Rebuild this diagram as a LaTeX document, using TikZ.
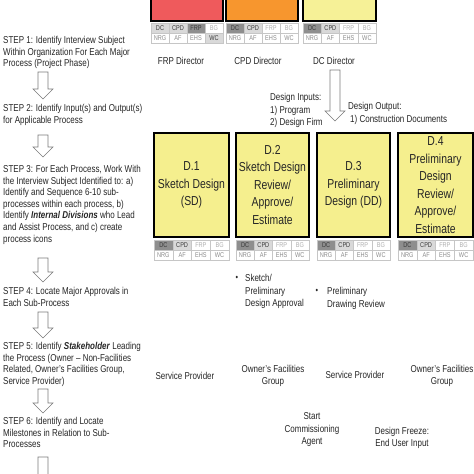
\documentclass[tikz,border=0pt]{standalone}
\usepackage{fontspec}
\setmainfont{Liberation Sans}[FakeStretch=0.8]

\definecolor{frpred}{HTML}{EF5A5C}
\definecolor{cpdorange}{HTML}{F7962E}
\definecolor{dcyellow}{HTML}{F6F197}
\definecolor{boxyellow}{HTML}{F5EF8E}
\definecolor{arrowgray}{HTML}{7A7A7A}
\definecolor{cellline}{HTML}{C6C6C6}
\definecolor{leadgray}{HTML}{8E8E8E}
\definecolor{assistgray}{HTML}{D9D9D9}
\definecolor{darktext}{HTML}{3A3A3A}
\definecolor{dimtext}{HTML}{8C8C8C}
\definecolor{lighttext}{HTML}{B0B0B0}
\definecolor{maintext}{HTML}{262626}

\tikzset{
  steptext/.style={anchor=north west, align=left, inner sep=0pt, text=maintext,
    font=\fontsize{10}{11.6}\selectfont},
  lbl/.style={align=center, inner sep=0pt, text=maintext,
    font=\fontsize{10}{12.5}\selectfont},
  dbox/.style={draw=black, line width=1.4pt, fill=boxyellow, align=center,
    inner sep=0pt, text=maintext, font=\fontsize{13}{17.5}\selectfont},
  topbox/.style={draw=black, line width=1.4pt},
  cell/.style={draw=cellline, line width=0.5pt, minimum height=10pt, inner sep=0pt,
    font=\fontsize{7}{7}\selectfont},
  lead/.style={fill=leadgray, text=darktext},
  assist/.style={fill=assistgray, text=darktext},
  none/.style={fill=white, text=lighttext},
  dim/.style={fill=white, text=dimtext},
  blockline/.style={draw=arrowgray, line width=0.6pt, fill=white}
}

% hollow down arrow: x centre, top, tip
\newcommand{\blockdown}[3]{%
  \draw[blockline] ({#1-5},#2) -- ({#1+5},#2) -- ({#1+5},{#3-10}) -- ({#1+10},{#3-10})
    -- (#1,#3) -- ({#1-10},{#3-10}) -- ({#1-5},{#3-10}) -- cycle;}

% role grid: name, left x, top y, width, cells
\newcommand{\rolegrid}[5]{%
  \foreach \lab/\sty [count=\i from 0] in {#5}{
    \pgfmathtruncatemacro{\col}{mod(\i,4)}
    \pgfmathtruncatemacro{\row}{int(\i/4)}
    \node[cell, \sty, minimum width={#4/4}] (#1-\i) at ({#2+(\col+0.5)*#4/4},{#3+(\row+0.5)*10}) {\lab};
  }}

\begin{document}
\begin{tikzpicture}[x=1pt,y=-1pt]
\clip (0,0) rectangle (474,474);
\fill[white] (0,0) rectangle (474,474);

% steps
\node[steptext] (s1) at (3,36) {STEP 1: Identify Interview Subject\\Within Organization For Each Major\\Process (Project Phase)};
\node[steptext] (s2) at (3,104) {STEP 2: Identify Input(s) and Output(s)\\for Applicable Process};
\node[steptext] (s3) at (3,165) {STEP 3: For Each Process, Work With\\the Interview Subject Identified to: a)\\Identify and Sequence 6-10 sub-\\processes within each process, b)\\Identify \textbf{\textit{Internal Divisions}} who Lead\\and Assist Process, and c) create\\process icons};
\node[steptext] (s4) at (3,287) {STEP 4: Locate Major Approvals in\\Each Sub-Process};
\node[steptext] (s5) at (3,342) {STEP 5: Identify \textbf{\textit{Stakeholder}} Leading\\the Process (Owner – Non-Facilities\\Related, Owner’s Facilities Group,\\Service Provider)};
\node[steptext] (s6) at (3,417) {STEP 6: Identify and Locate\\Milestones in Relation to Sub-\\Processes};

\foreach \a/\b in {72/99, 135/157, 258/282, 312/338, 389/413, 457/490}
  {\blockdown{43}{\a}{\b}}

% directors
\draw[topbox, fill=frpred] (151,-5) rectangle (223,21);
\draw[topbox, fill=cpdorange] (226,-5) rectangle (298,21);
\draw[topbox, fill=dcyellow] (303,-5) rectangle (376,21);

\rolegrid{frp}{151}{23}{72}{DC/assist,CPD/assist,FRP/lead,BG/none,NRG/dim,AF/dim,EHS/dim,WC/assist}
\rolegrid{cpd}{226}{23}{72}{DC/lead,CPD/assist,FRP/none,BG/none,NRG/dim,AF/dim,EHS/dim,WC/dim}
\rolegrid{dc}{303}{23}{73}{DC/lead,CPD/assist,FRP/none,BG/none,NRG/dim,AF/dim,EHS/dim,WC/dim}

\node[lbl] (frpdir) at (181,61) {FRP Director};
\node[lbl] (cpddir) at (258,61) {CPD Director};
\node[lbl] (dcdir) at (334,61) {DC Director};

% inputs / outputs
\blockdown{335}{70}{121}
\node[lbl, anchor=north west, align=left] (din) at (270,93.3) {Design Inputs:\\1) Program\\2) Design Firm};
\node[lbl, anchor=north west, align=left] (dout) at (348,102.3) {Design Output:\\\hspace{2pt}1) Construction Documents};

% sub-processes
\node[dbox, minimum width=75pt, minimum height=104pt] (d1) at (191.5,185) {D.1\\Sketch Design\\(SD)};
\node[dbox, minimum width=73pt, minimum height=104pt] (d2) at (272.5,185) {D.2\\Sketch Design\\Review/\\Approve/\\Estimate};
\node[dbox, minimum width=73pt, minimum height=104pt] (d3) at (353.5,185) {D.3\\Preliminary\\Design (DD)};
\node[dbox, minimum width=75pt, minimum height=104pt] (d4) at (435.5,185) {D.4\\Preliminary\\Design\\Review/\\Approve/\\Estimate};

\foreach \g/\x/\w in {g1/154/75, g2/236/73, g3/317/73, g4/398/75}
  {\rolegrid{\g}{\x}{240}{\w}{DC/lead,CPD/assist,FRP/none,BG/none,NRG/dim,AF/dim,EHS/dim,WC/dim}}

% approvals
\node[lbl, font=\fontsize{9}{9}\selectfont] (b1dot) at (237,278) {•};
\node[lbl, anchor=north west, align=left] (b1) at (245,274.3) {Sketch/\\Preliminary\\Design Approval};
\node[lbl, font=\fontsize{9}{9}\selectfont] (b2dot) at (317,291) {•};
\node[lbl, anchor=north west, align=left] (b2) at (327,287.3) {Preliminary\\Drawing Review};

% stakeholders
\node[lbl] (k1) at (185,376) {Service Provider};
\node[lbl] (k2) at (273,376) {Owner’s Facilities\\Group};
\node[lbl] (k3) at (355,375) {Service Provider};
\node[lbl] (k4) at (442,376) {Owner’s Facilities\\Group};

% milestones
\node[lbl] (m1) at (312,430) {Start\\Commissioning\\Agent};
\node[lbl] (m2) at (402,438) {Design Freeze:\\End User Input};
\end{tikzpicture}
\end{document}
